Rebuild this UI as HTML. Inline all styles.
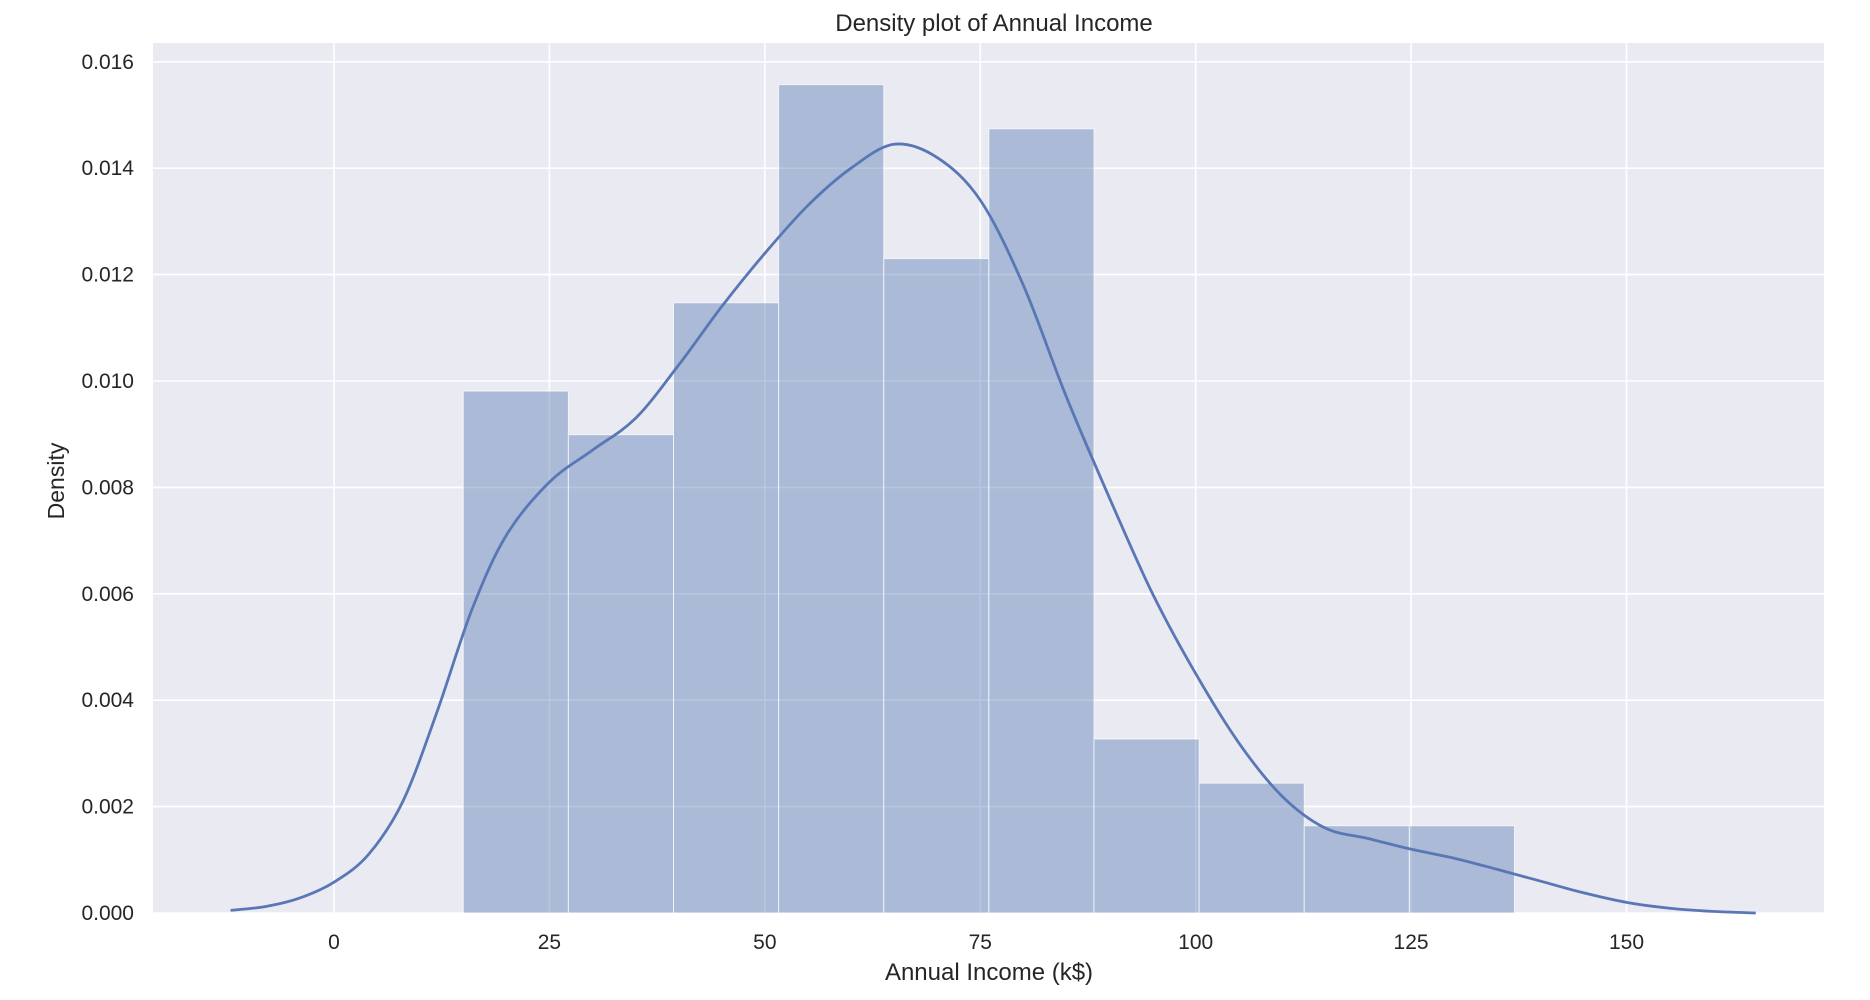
<!DOCTYPE html>
<html><head><meta charset="utf-8"><style>
html,body{margin:0;padding:0;background:#fff;}
svg{display:block;font-family:"Liberation Sans",Arial,sans-serif;}
</style></head><body>
<svg id="chart" width="1870" height="1000"></svg>
<script>
const binEdges=[15,27.2,39.4,51.6,63.8,76,88.2,100.4,112.6,124.8,137];
const binDensity=[0.00981,0.00899,0.01147,0.01557,0.0123,0.01474,0.00327,0.00244,0.00164,0.00164];
const kdeX=[-12,-8,-4,0,4,8,12,16,20,25,30,35,40,45,50,55,60,65,70,75,80,85,90,95,100,105,110,115,120,125,130,135,140,145,150,155,160,165];
const kdeY=[0.00005,0.00012,0.00028,0.00058,0.0011,0.0021,0.0038,0.0057,0.0071,0.0081,0.0087,0.0093,0.0103,0.0114,0.0124,0.0133,0.0140,0.01445,0.0142,0.0134,0.0118,0.0097,0.0078,0.0060,0.0045,0.0032,0.0022,0.0016,0.0014,0.0012,0.00103,0.00082,0.0006,0.00038,0.0002,0.00009,0.00003,0.0];
const xTicks=[0,25,50,75,100,125,150];
const yTicks=[0,0.002,0.004,0.006,0.008,0.010,0.012,0.014,0.016];

const L=153,R=1824,T=43,B=913;
const X0=334,XS=(1626.5-334)/150;
const YS=106.4/0.002;
const sx=v=>X0+v*XS, sy=v=>B-v*YS;
const NS='http://www.w3.org/2000/svg';
const svg=document.getElementById('chart');
function mk(tag,attrs,parent){const e=document.createElementNS(NS,tag);for(const k in attrs)e.setAttribute(k,attrs[k]);(parent||svg).appendChild(e);return e;}

const bg=mk('rect',{x:L,y:T,width:R-L,height:B-T,fill:'#eaeaf2'});



yTicks.forEach(v=>{
  const g=mk('line',{x1:L,x2:R,y1:sy(v),y2:sy(v),stroke:'#fff','stroke-width':1.6});
  
  
  const t=mk('text',{x:134,y:sy(v)+7,'text-anchor':'end','font-size':21,fill:'#262626'});
  t.textContent=v.toFixed(3);
  
  
});
xTicks.forEach(v=>{
  const g=mk('line',{x1:sx(v),x2:sx(v),y1:T,y2:B,stroke:'#fff','stroke-width':1.6});
  
  
  const t=mk('text',{x:sx(v),y:949,'text-anchor':'middle','font-size':21,fill:'#262626'});
  t.textContent=v;
  
  
});

binDensity.forEach((d,i)=>{
  const x1=sx(binEdges[i]),x2=sx(binEdges[i+1]);
  const r=mk('rect',{x:x1,y:sy(d),width:x2-x1,height:B-sy(d),fill:'rgba(76,114,176,0.4)',stroke:'rgba(255,255,255,0.7)','stroke-width':1});
  
  
});

const pts=kdeX.map((x,i)=>[sx(x),sy(kdeY[i])]);
let d='M'+pts[0][0]+','+pts[0][1];
for(let i=0;i<pts.length-1;i++){
  const p0=pts[Math.max(0,i-1)],p1=pts[i],p2=pts[i+1],p3=pts[Math.min(pts.length-1,i+2)];
  const c1=[p1[0]+(p2[0]-p0[0])/6,p1[1]+(p2[1]-p0[1])/6];
  const c2=[p2[0]-(p3[0]-p1[0])/6,p2[1]-(p3[1]-p1[1])/6];
  d+=' C'+c1+' '+c2+' '+p2;
}
const kde=mk('path',{d:d,fill:'none',stroke:'#5a77b5','stroke-width':2.8});



const title=mk('text',{x:994,y:31,'text-anchor':'middle','font-size':24,fill:'#262626'});
title.textContent='Density plot of Annual Income';


const xl=mk('text',{x:989,y:980,'text-anchor':'middle','font-size':24,fill:'#262626'});
xl.textContent='Annual Income (k$)';


const yl=mk('text',{x:0,y:0,'text-anchor':'middle','font-size':23,fill:'#262626',transform:'translate(64,481) rotate(-90)'});
yl.textContent='Density';


</script>
</body></html>
